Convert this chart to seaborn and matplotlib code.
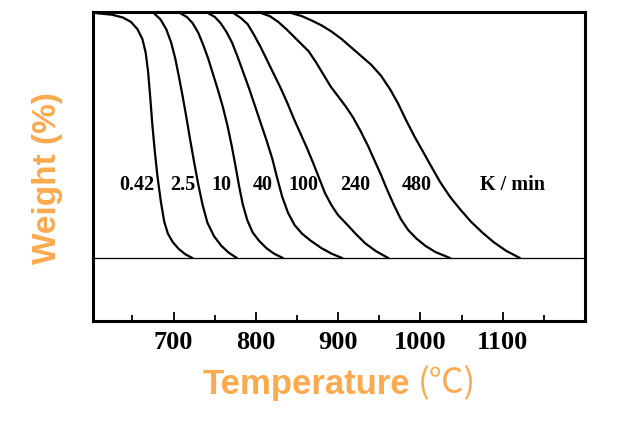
# TGA curves at different heating rates
import numpy as np
import pandas as pd
import matplotlib
matplotlib.use("Agg")
import matplotlib.pyplot as plt
from matplotlib.ticker import MultipleLocator
import seaborn as sns

sns.set_style("white")

# heating rates (K/min) and curves
rates = ["0.42", "2.5", "10", "40", "100", "240", "480"]

temp_042 = [607, 625, 638, 648, 656, 662, 666, 669, 671.5, 674, 677, 680.5, 684.5, 688.5, 693, 699, 706, 714, 723]
wt_042 = [100, 99.4, 98.3, 96.5, 93.5, 89.5, 84, 76, 66, 55, 44, 33, 23, 15, 10, 6.5, 3.8, 1.6, 0]

temp_25 = [676, 684, 691, 697, 702, 706.5, 711, 715.5, 720, 725, 730, 735, 741, 749, 758, 767, 777]
wt_25 = [100, 97.5, 93.5, 88, 81.5, 74, 66, 57.5, 48.5, 39, 30, 22, 14.5, 9, 5, 2.2, 0]

temp_10 = [708, 716, 723, 730, 736, 742, 748, 754, 760, 765.5, 770.5, 775, 779.5, 784, 789.5, 796, 804, 813, 822, 833]
wt_10 = [100, 98.5, 96, 92, 87, 81.5, 75, 68.5, 61.5, 54, 46, 38, 29.5, 22, 15.5, 10.5, 7, 4, 1.8, 0]

temp_40 = [742, 750, 757, 764, 771, 778, 785, 792, 799, 806, 813, 820, 826, 832, 839, 847, 856, 867, 880, 892, 905]
wt_40 = [100, 98.5, 96, 92.5, 88, 82, 75.5, 69, 62, 55, 48, 40.5, 32.5, 25, 18.5, 13.5, 10, 7, 4, 1.8, 0]

temp_100 = [773, 782, 790, 798, 806, 814, 822, 830, 838, 846, 854, 862, 870, 877, 884, 892, 900, 910, 921, 933, 946, 961]
wt_100 = [100, 98, 95.5, 91, 86, 80.5, 75, 69.5, 63.5, 57, 51, 45, 38.5, 32.5, 26.5, 21.5, 17.5, 14, 10, 6, 2.8, 0]

temp_240 = [807, 817, 827, 837, 846, 855, 864, 873, 882, 891, 900, 909, 918, 927, 936, 944, 952, 960, 968, 976, 985, 995, 1006, 1018, 1036]
wt_240 = [100, 98.8, 96.5, 93.5, 90.5, 87.5, 84.5, 80, 75, 70, 66, 62, 57.5, 52, 46, 40, 34, 27.5, 21.5, 16, 11.5, 8, 5, 2.5, 0]

temp_480 = [844, 856, 868, 880, 892, 904, 916, 928, 940, 952, 963, 973, 983, 993, 1003, 1013, 1024, 1036, 1048, 1061, 1075, 1089, 1104, 1121]
wt_480 = [100, 98.8, 97, 95, 92.5, 89.5, 86, 82.5, 79, 74.5, 69, 63, 56, 49.5, 43.5, 37.5, 31, 25, 20, 15, 10.5, 6.5, 3, 0]

# label positions (temperature) and text height (weight)
label_temps = [655, 711, 758, 808, 858, 921, 995, 1112]
label_texts = ["0.42", "2.5", "10", "40", "100", "240", "480", "K / min"]
label_wt = 29.8

curves = [(temp_042, wt_042), (temp_25, wt_25), (temp_10, wt_10), (temp_40, wt_40),
          (temp_100, wt_100), (temp_240, wt_240), (temp_480, wt_480)]
frames = []
for r, (t, w) in zip(rates, curves):
    frames.append(pd.DataFrame({"temp": t, "weight": w, "rate": r}))
df = pd.concat(frames, ignore_index=True)

fig = plt.figure(figsize=(6.4, 4.23), dpi=100)
ax = fig.add_axes([0.1453, 0.2411, 0.7688, 0.7305])

sns.lineplot(data=df, x="temp", y="weight", hue="rate", palette=["black"] * len(rates),
             estimator=None, sort=False, linewidth=1.6, legend=False, ax=ax,
             solid_joinstyle="round", solid_capstyle="round")
ax.axhline(0, color="black", linewidth=0.9)

for t, s in zip(label_temps, label_texts):
    ax.text(t, label_wt, s, ha="center", va="center", fontsize=14.5, color="black",
            fontweight="bold", family="Liberation Serif")

ax.set_xlim(602, 1200)
ax.set_ylim(-25.7, 100.5)
ax.xaxis.set_minor_locator(MultipleLocator(50))
ax.set_yticks([])
ax.set_xticks([700, 800, 900, 1000, 1100])
ax.set_xticklabels(["700", "800", "900", "1000", "1100"], fontfamily="Liberation Serif",
                   fontweight="bold", fontsize=19, color="black")
ax.tick_params(axis="x", which="major", direction="in", length=6.5, width=1.3, pad=7,
               bottom=True, color="black")
ax.tick_params(axis="x", which="minor", direction="in", length=4.3, width=1.3,
               bottom=True, color="black")
for sp in ax.spines.values():
    sp.set_linewidth(2.2)
    sp.set_color("black")
ax.set_xlabel("")
ax.set_ylabel("")

orange = "#FBAA4E"
fig.text(48 / 640, 1 - 178 / 423, "Weight (%)", rotation=90, ha="center", va="center",
         fontsize=24, fontweight="bold", color=orange, family="Liberation Sans")
fig.text(203 / 640, 1 - 384 / 423, "Temperature", ha="left", va="center",
         fontsize=25, fontweight="bold", color=orange, family="Liberation Sans")
fig.text(418 / 640, 1 - 384 / 423, "(℃)", ha="left", va="center",
         fontsize=25, color=orange, family=["Noto Sans CJK SC", "DejaVu Sans"])

fig.savefig("out.png", dpi=100)
